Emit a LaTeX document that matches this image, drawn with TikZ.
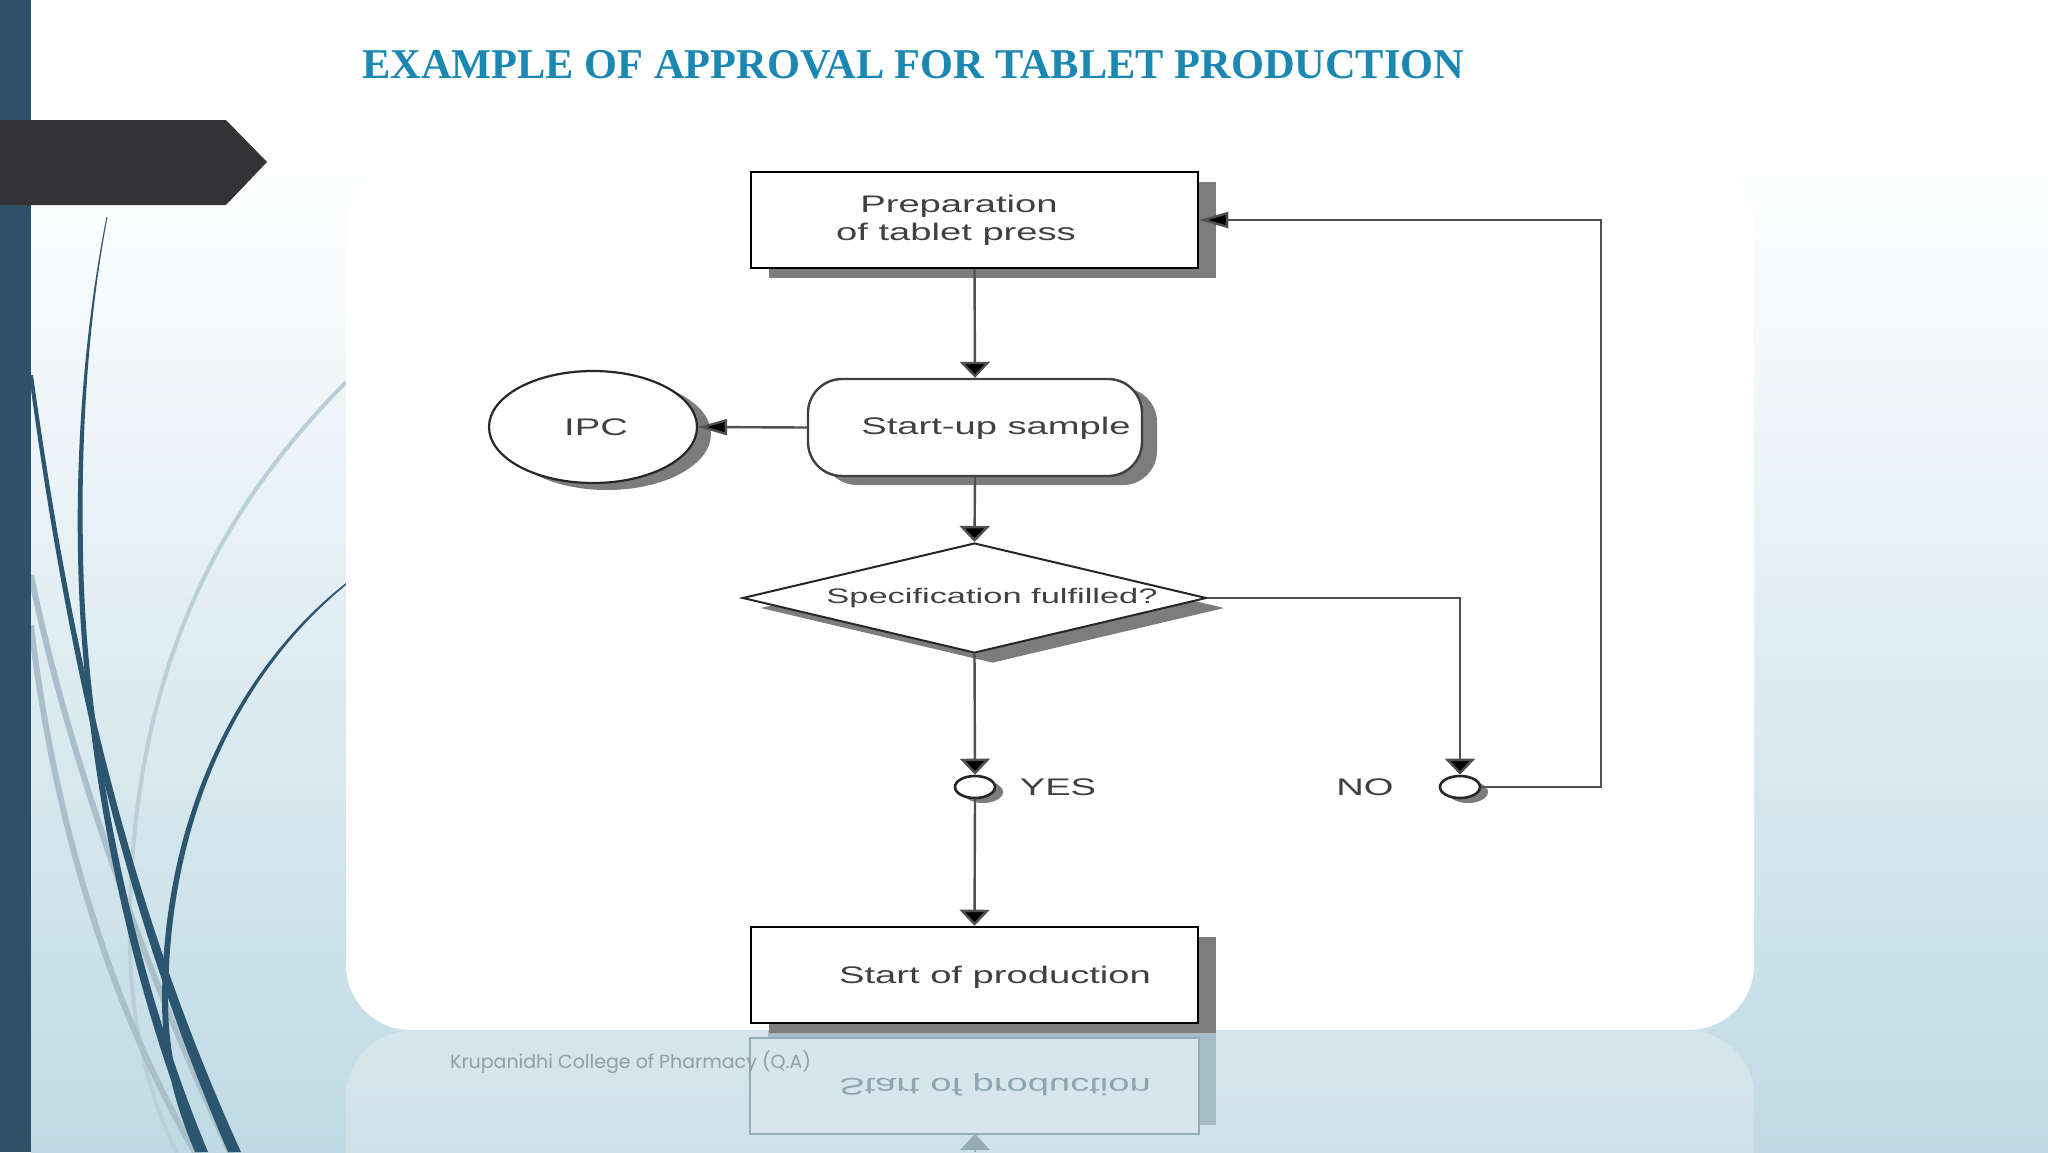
\documentclass[tikz,border=0pt]{standalone}
\usepackage{fontspec}
\usepackage{graphicx}
\usetikzlibrary{shapes.geometric,shadows,arrows.meta}
\setmainfont{Liberation Sans}
\newfontfamily\titlefont{Liberation Serif}[BoldFont={Liberation Serif Bold}]
\newfontfamily\footfont{Poppins}
\definecolor{barblue}{HTML}{2F5168}
\definecolor{curvedark}{HTML}{2C5570}
\definecolor{curvegrayA}{HTML}{BCCFD8}
\definecolor{curvegrayB}{HTML}{A9C0CB}
\definecolor{bgmid}{HTML}{E2EDF2}
\definecolor{bgend}{HTML}{BFDAE4}
\definecolor{plaquedark}{HTML}{333335}
\definecolor{titleblue}{HTML}{1A88B2}
\definecolor{inkline}{HTML}{505050}
\definecolor{shadowgray}{HTML}{7C7C7C}
\definecolor{txtgray}{HTML}{404040}
\definecolor{reflA}{HTML}{D6E6EC}
\definecolor{reflB}{HTML}{C6DDE6}
\definecolor{reflLine}{HTML}{93ACB6}
\definecolor{reflShadow}{HTML}{A6BCC5}
\definecolor{reflTxt}{HTML}{8FA6B0}
\definecolor{footgray}{HTML}{8F9FA6}
\newcommand{\widen}[1]{\scalebox{1.59}[1]{#1}}
\tikzset{
  box/.style={draw=black,line width=2.6pt,fill=white,rectangle,inner sep=0pt,minimum width=447pt,minimum height=96pt,
    general shadow={shadow xshift=18pt,shadow yshift=-10pt,fill=shadowgray}},
  roundbox/.style={draw=black!75,line width=2.4pt,fill=white,rectangle,rounded corners=34pt,inner sep=0pt,minimum width=334pt,minimum height=97pt,
    general shadow={shadow xshift=15pt,shadow yshift=-9pt,fill=shadowgray}},
  ipcshape/.style={draw=black!85,line width=2.2pt,fill=white,ellipse,inner sep=0pt,minimum width=208pt,minimum height=112pt,
    general shadow={shadow xshift=14pt,shadow yshift=-7pt,fill=shadowgray}},
  decision/.style={draw=black!85,line width=2pt,fill=white,diamond,aspect=4.22,inner sep=0pt,minimum width=464pt,minimum height=110pt,
    general shadow={shadow xshift=18pt,shadow yshift=-10pt,fill=shadowgray}},
  junction/.style={draw=black!85,line width=2.6pt,fill=white,ellipse,inner sep=0pt,minimum width=40pt,minimum height=22pt,
    general shadow={shadow xshift=8pt,shadow yshift=-5pt,fill=shadowgray}},
  lbl/.style={font=\fontsize{24}{26}\selectfont,text=txtgray,inner sep=0pt},
  conn/.style={draw=inkline,line width=2.4pt},
  downtip/.style={-{Triangle[length=16pt,width=30pt,fill=black]}},
  sidetip/.style={-{Triangle[length=29pt,width=16pt,fill=black]}},
}
\begin{document}
\begin{tikzpicture}[x=1pt,y=-1pt]
\useasboundingbox (0,0) rectangle (2048,1152);
\clip (0,0) rectangle (2048,1152);
% background
\fill[white] (0,0) rectangle (2048,1152);
\shade[top color=white,middle color=bgmid,bottom color=bgend] (31,150) rectangle (2048,1152);
% curves
\begin{scope}
\clip (31,0) rectangle (2048,1152);
\draw[curvegrayA,line width=4pt] (346,382) .. controls (240,490) and (125,650) .. (130,950) .. controls (132,1030) and (150,1100) .. (180,1160);
\draw[curvegrayB,line width=6pt] (31,575) .. controls (60,720) and (130,940) .. (230,1152) -- (240,1170);
\draw[curvegrayB,line width=6pt] (31,625) .. controls (50,790) and (100,990) .. (195,1152) -- (205,1170);
\fill[curvedark] (29,375) .. controls (64,634) and (116,893) .. (228,1152) -- (241,1152) .. controls (123,893) and (69,634) .. (33,375) -- cycle;
\fill[curvedark] (106.5,217) .. controls (84,330) and (76,450) .. (78,551) .. controls (80,720) and (116,950) .. (198,1152) -- (208,1152) .. controls (124,950) and (85,720) .. (83,551) .. controls (81,450) and (86,330) .. (107.5,217) -- cycle;
\fill[curvedark] (346,583) .. controls (250,658) and (163,800) .. (162,1000) .. controls (162,1060) and (177,1110) .. (195,1152) -- (202,1152) .. controls (183,1110) and (168,1060) .. (168,1000) .. controls (169,800) and (252,662) .. (346,585) -- cycle;
\end{scope}
% white panel
\fill[white,rounded corners=65pt] (346,165) rectangle (1754,1030);
% reflection
\begin{scope}
\clip (0,1030.5) rectangle (2048,1152);
\shade[top color=reflA,bottom color=reflB,rounded corners=65pt] (346,1031) rectangle (1754,1300);
\fill[reflShadow] (768,1031) rectangle (1216,1125);
\draw[reflLine,line width=2.5pt,fill=reflA] (750,1038) rectangle (1199,1134);
\fill[reflLine] (975,1134) -- (960,1150) -- (990,1150) -- cycle;
\fill[reflLine] (974,1150) rectangle (976,1152);
\end{scope}
\node[font=\fontsize{24}{26}\selectfont,text=reflTxt,inner sep=0pt] (mirrorprod) at (995,1085) {\scalebox{1.59}[-1]{Start of production}};
\node[anchor=west,font=\footfont\fontsize{19}{22}\selectfont,text=footgray,inner sep=0pt] (footer) at (450,1062) {Krupanidhi College of Pharmacy (Q.A)};
% left bar and plaque
\fill[barblue] (0,0) rectangle (31,1152);
\fill[plaquedark] (0,120) -- (226,120) -- (267,162) -- (226,205) -- (0,205) -- cycle;
% title
\node[anchor=base west,font=\titlefont\bfseries\fontsize{42.4}{46}\selectfont,text=titleblue,inner sep=0pt] (title) at (362,78) {EXAMPLE OF APPROVAL FOR TABLET PRODUCTION};
% flowchart
\node[box] (prep) at (974.5,220) {};
\node[roundbox] (sample) at (975,427.5) {};
\node[ipcshape] (ipc) at (593,427) {};
\node[decision] (dec) at (974.5,598) {};
\node[junction] (yes) at (975,787) {};
\node[junction] (no) at (1460,787) {};
\node[box] (prod) at (974.5,975) {};
\coordinate (loopR) at (1601,220);
% labels
\node[lbl] (t1) at (959,206.5) {\widen{Preparation}};
\node[lbl] (t2) at (956,234) {\widen{of tablet press}};
\node[lbl] (t3) at (996,428) {\widen{Start-up sample}};
\node[lbl] (t4) at (596,427) {\widen{IPC}};
\node[lbl,font=\fontsize{21}{23}\selectfont] (t5) at (992,598) {\scalebox{1.64}[1]{Specification fulfilled?}};
\node[lbl] (t6) at (1058,787) {\widen{YES}};
\node[lbl] (t7) at (1365,787) {\widen{NO}};
\node[lbl] (t8) at (995,977) {\widen{Start of production}};
% connectors
\draw[conn,downtip] (prep.south) -- (sample.north);
\draw[conn,sidetip] (sample.west) -- (ipc.east);
\draw[conn,downtip] (sample.south) -- (dec.north);
\draw[conn,downtip] (dec.south) -- (yes.north);
\draw[conn,downtip] (yes.south) -- (prod.north);
\draw[conn,downtip] (dec.east) -| (no.north);
\draw[conn,sidetip] (no.east) -| (loopR) -- (prep.east);
\end{tikzpicture}
\end{document}
